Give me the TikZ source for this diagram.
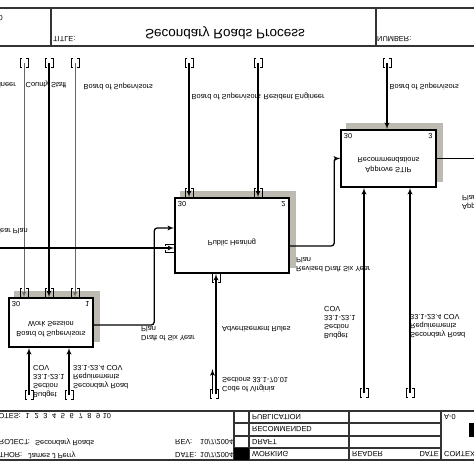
\documentclass[tikz,border=0pt]{standalone}
\usepackage{fontspec}
\setmainfont{Liberation Sans}
\usetikzlibrary{calc,positioning,backgrounds,arrows}
\definecolor{shadowgray}{HTML}{BDBAB2}
\definecolor{linegray}{HTML}{333333}
\tikzset{
	tunnel/.pic={\draw[line width=1pt] (-2,-4.5) -| (-4,4.5) -- (-2,4.5) (2,-4.5) -| (4,4.5) -- (2,4.5);},
	lbl/.style={font=\fontsize{7.4}{9}\selectfont, inner sep=0pt, align=left},
	boxtext/.style={font=\fontsize{7.4}{10}\selectfont, inner sep=0pt, align=center},
	actbox/.style={draw, line width=1.6pt, fill=white, inner sep=0pt},
	flow/.style={line width=1.3pt},
	hdrline/.style={draw=linegray, line width=1.3pt}
}

\begin{document}
\begin{tikzpicture}[>=latex', x=1pt, y=1pt, yscale=-1, transform shape]
	\useasboundingbox (0,0) rectangle (474,474);
	% title block
	\draw[hdrline] (0,8) -- (474,8) (0,46) -- (474,46) (51,8) -- (51,46) (376,8) -- (376,46);
	\node[lbl, anchor=east] (nodeno) at (3,18) {A-0};
	\node[lbl, anchor=west] (ttl) at (53,39) {TITLE:};
	\node[lbl, anchor=west] (num) at (377,39) {NUMBER:};
	\node[font=\fontsize{13.5}{15}\selectfont, inner sep=0pt] (title) at (225,33) {Secondary Roads Process};

	% activities
	\node[actbox, minimum width=84pt, minimum height=49pt] (ws) at (51,322.5) {};
	\node[actbox, minimum width=114pt, minimum height=75pt] (ph) at (232,235.5) {};
	\node[actbox, minimum width=95pt, minimum height=57pt] (ap) at (388.5,158.5) {};
	\begin{scope}[on background layer]
		\foreach \b in {ws,ph,ap}
			\fill[shadowgray] ($(\b.south west)+(6,-6)$) rectangle ($(\b.north east)+(6,-6)$);
	\end{scope}
	\node[boxtext] (wst) at ($(ws)+(0,6.5)$) {Board of Supervisors\\Work Session};
	\node[boxtext] (pht) at ($(ph)+(0,6.5)$) {Public Hearing};
	\node[boxtext] (apt) at ($(ap)+(0,6.5)$) {Approve STIP\\Recommendations};
	\foreach \b/\n in {ws/1,ph/2,ap/3} {
		\node[lbl, anchor=south west] (\b0) at ($(\b.south west)+(3.5,4.5)$) {30};
		\node[lbl, anchor=south east] (\b\n) at ($(\b.south east)+(-4,4.5)$) {\n};
	}

	% mechanisms
	\foreach \m/\x in {m1/24,m2/49,m3/75,m4/189,m5/258,m6/387}
		\coordinate (\m) at (\x,63);
	\draw[flow, ->, draw=black!60, line width=0.9pt] (m1) -- (m1 |- ws.south);
	\draw[flow, ->] (m2) -- (m2 |- ws.south);
	\draw[flow, ->, draw=black!60, line width=0.9pt] (m3) -- (m3 |- ws.south);
	\draw[flow, ->] (m4) -- (m4 |- ph.south);
	\draw[flow, ->] (m5) -- (m5 |- ph.south);
	\draw[flow, ->] (m6) -- (m6 |- ap.south);
	\foreach \m in {m1,m2,m3,m4,m5,m6}
		\pic at (\m) {tunnel};
	\foreach \m in {m1,m2,m3}
		\pic at ($(\m |- ws.south)+(0,-4)$) {tunnel};
	\foreach \m in {m4,m5}
		\pic at ($(\m |- ph.south)+(0,-4)$) {tunnel};
	\node[lbl, anchor=east] (mre1) at (16,84) {Resident Engineer};
	\node[lbl, anchor=west] (mcs) at (25.5,84) {County Staff};
	\node[lbl, anchor=west] (mbs1) at (83.5,86) {Board of Supervisors};
	\node[lbl, anchor=west] (mbs2) at (191.5,96) {Board of Supervisors};
	\node[lbl, anchor=west] (mre2) at (263.5,96) {Resident Engineer};
	\node[lbl, anchor=west] (mbs3) at (389.5,86) {Board of Supervisors};

	% controls
	\coordinate (c1) at (29,395);
	\coordinate (c2) at (69,395);
	\coordinate (c3) at (216,394);
	\coordinate (c6) at (212.5,394);
	\coordinate (c6e) at (212.5,369);
	\coordinate (c4) at (364,393);
	\coordinate (c5) at (410,393);
	\draw[flow, ->] (c1) -- (c1 |- ws.north);
	\draw[flow, ->] (c2) -- (c2 |- ws.north);
	\draw[flow, ->] (c3) -- (c3 |- ph.north);
	\draw[flow, ->] (c6) -- (c6e);
	\draw[flow, ->] (c4) -- (c4 |- ap.north);
	\draw[flow, ->] (c5) -- (c5 |- ap.north);
	\foreach \c in {c1,c2,c4,c5}
		\pic at (\c) {tunnel};
	\pic at ($(c3)!0.5!(c6)$) {tunnel};
	\pic at ($(c3 |- ph.north)+(0,4)$) {tunnel};
	\node[lbl, anchor=west] (cb1) at (33,381.5) {Budget\\Section\\33.1-23.1\\COV};
	\node[lbl, anchor=west] (cr1) at (73,377) {Secondary Road\\Requirements\\33.1-23.4 COV};
	\node[lbl, anchor=west] (cad) at (222,329) {Advertisement Rules};
	\node[lbl, anchor=west] (ccv) at (222,384.5) {Code of Virginia\\Sections 33.1-70.01};
	\node[lbl, anchor=west] (cb2) at (324,322.5) {Budget\\Section\\33.1-23.1\\COV};
	\node[lbl, anchor=west] (cr2) at (410,326) {Secondary Road\\Requirements\\33.1-23.4 COV};

	% inputs and outputs
	\coordinate (i1) at (-2,248);
	\draw[flow, ->] (i1) -- (i1 -| ph.west);
	\pic[rotate=90] at ($(i1 -| ph.west)+(-4,0)$) {tunnel};
	\node[lbl, anchor=east] (isp) at (28,231) {Six Year Plan};
	\draw[flow, ->, rounded corners=3pt] ([yshift=2.5pt]ws.east) -| ($(ph.west)+(-20,-7.5)$) -- ([yshift=-7.5pt]ph.west);
	\node[lbl, anchor=west] (odr) at (141,334) {Draft of Six Year\\Plan};
	\draw[flow, ->, rounded corners=3pt] ([yshift=10.5pt]ph.east) -| ($(ap.west)+(-6,0)$) -- (ap.west);
	\node[lbl, anchor=west] (orv) at (296,265) {Revised Draft Six Year\\Plan};
	\coordinate (o1) at (480,0);
	\draw[flow] (ap.east) -- (ap.east -| o1);
	\node[lbl, anchor=west] (oap) at (462,202.5) {Approved Six Year\\Plan};

	% header
	\draw[hdrline] (0,411) -- (474,411) (0,460) -- (474,460);
	\foreach \x in {234,249,349,441}
		\draw[hdrline] (\x,411) -- (\x,460);
	\foreach \y in {423,436,448}
		\draw[hdrline] (234,\y) -- (441,\y);
	\fill (234,448) rectangle (249,460);
	\fill (469,423) rectangle (476,437);
	\node[lbl, anchor=east] (notes) at (21,416) {NOTES:};
	\foreach \n in {1,...,10}
		\node[lbl] (note\n) at (19+8.8*\n,416) {\n};
	\node[lbl, anchor=east] (proj) at (30,442) {PROJECT:};
	\node[lbl, anchor=west] (projv) at (35,442) {Secondary Roads};
	\node[lbl, anchor=east] (auth) at (22.5,455) {AUTHOR:};
	\node[lbl, anchor=west] (authv) at (28,455) {James J Perry};
	\node[lbl, anchor=west] (rev) at (175,442) {REV:};
	\node[lbl, anchor=west] (revv) at (200,442) {10/7/2004};
	\node[lbl, anchor=west] (date) at (175,455) {DATE:};
	\node[lbl, anchor=west] (datev) at (200,455) {10/7/2004};
	\node[lbl, anchor=west] (pub) at (252,417) {PUBLICATION};
	\node[lbl, anchor=west] (rec) at (252,429.5) {RECOMMENDED};
	\node[lbl, anchor=west] (drf) at (252,442) {DRAFT};
	\node[lbl, anchor=west] (wrk) at (252,454) {WORKING};
	\node[lbl, anchor=west] (rdr) at (352,454) {READER};
	\node[lbl, anchor=east] (rdt) at (439,454) {DATE};
	\node[lbl, anchor=west] (ctx) at (444,454) {CONTEXT:};
	\node[lbl, anchor=west] (ctxn) at (444,417) {A-0};
\end{tikzpicture}
\end{document}
